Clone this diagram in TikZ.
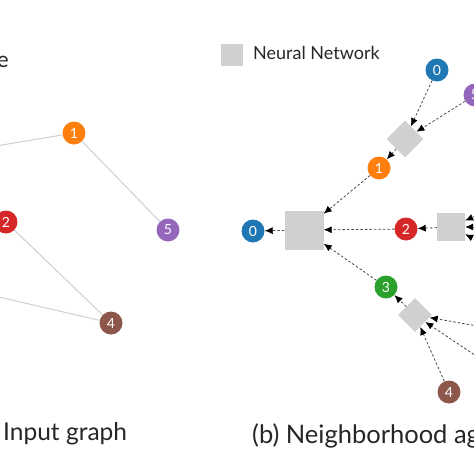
\documentclass[tikz,border=0pt]{standalone}
\usepackage{fontspec}
\setmainfont{Lato}
\usetikzlibrary{arrows.meta}
\definecolor{tabblue}{HTML}{1F77B4}
\definecolor{taborange}{HTML}{FF7F0E}
\definecolor{tabgreen}{HTML}{2CA02C}
\definecolor{tabred}{HTML}{D62728}
\definecolor{tabpurple}{HTML}{9467BD}
\definecolor{tabbrown}{HTML}{8C564B}
\definecolor{boxgray}{HTML}{D0D0D0}
\definecolor{edgegray}{HTML}{CFCFCF}
\definecolor{msggray}{HTML}{4A4A4A}
\tikzset{
    vertex/.style={circle,fill=#1,text=white,minimum size=23pt,inner sep=0pt,
        font=\fontsize{14}{14}\selectfont},
    nnbox/.style={fill=boxgray,minimum size=#1,inner sep=0pt},
    nndiamond/.style={fill=boxgray,minimum size=#1,inner sep=0pt,rotate=45},
    graphedge/.style={draw=edgegray,line width=1pt},
    msg/.style={draw=msggray,line width=0.8pt,dash pattern=on 2.5pt off 2pt,
        -{Latex[length=8pt,width=7pt,black]}},
    caption/.style={anchor=base west,inner sep=0pt,font=\fontsize{#1}{26}\selectfont,text=black!85},
}

\begin{document}
\begin{tikzpicture}[x=1pt,y=-1pt]
\useasboundingbox (0,0) rectangle (474,474);
\clip (0,0) rectangle (474,474);

% (a) input graph
\node[caption=22] (etxt) at (-3,67) {e};
\node[vertex=taborange] (a1) at (74,133) {1};
\node[vertex=tabred] (a2) at (6,222) {2};
\node[vertex=tabpurple] (a5) at (168,230) {5};
\node[vertex=tabbrown] (a4) at (111,323) {4};
\coordinate (aw1) at (-40,152);
\coordinate (aw2) at (-40,288);
\draw[graphedge] (a1) -- (aw1);
\draw[graphedge] (a1) -- (a5);
\draw[graphedge] (a2) -- (a4);
\draw[graphedge] (aw2) -- (a4);
\node[caption=24.5] (capa) at (3,440) {Input graph};

% legend
\node[nnbox=22pt] (leg) at (232,55) {};
\node[anchor=west,inner sep=0pt,font=\fontsize{18}{20}\selectfont,text=black!85] (legtxt) at (253,53) {Neural Network};

% (b) neighborhood aggregation
\node[nnbox=39pt] (bbig) at (304,230) {};
\node[vertex=tabblue] (b0) at (253,231) {0};
\node[vertex=taborange] (b1) at (379,168) {1};
\node[vertex=tabred] (b2) at (406,229) {2};
\node[vertex=tabgreen] (b3) at (386,287) {3};
\node[nndiamond=26pt] (d1) at (405,139) {};
\node[vertex=tabblue] (b10) at (437,70) {0};
\node[vertex=tabpurple] (b15) at (475,95) {5};
\node[nnbox=28pt] (bright) at (451,227) {};
\node[nndiamond=24pt] (d3) at (415,315) {};
\node[vertex=tabbrown] (b34) at (449,392) {4};
\coordinate (r1) at (500,205);
\coordinate (r2) at (500,227);
\coordinate (r3) at (500,252);
\coordinate (s1) at (500,330);
\coordinate (s2) at (500,372);

\draw[msg] (bbig) -- (b0);
\draw[msg] (b1) -- (bbig);
\draw[msg] (b2) -- (bbig);
\draw[msg] (b3) -- (bbig);
\draw[msg] (d1) -- (b1);
\draw[msg] (b10) -- (d1);
\draw[msg] (b15) -- (d1);
\draw[msg] (bright) -- (b2);
\draw[msg] (r1) -- (bright);
\draw[msg] (r2) -- (bright);
\draw[msg] (r3) -- (bright);
\draw[msg] (d3) -- (b3);
\draw[msg] (s1) -- (d3);
\draw[msg] (s2) -- (d3);
\draw[msg] (b34) -- (d3);

\node[caption=25.5] (capb) at (252,443) {(b) Neighborhood aggregation};
\end{tikzpicture}
\end{document}
